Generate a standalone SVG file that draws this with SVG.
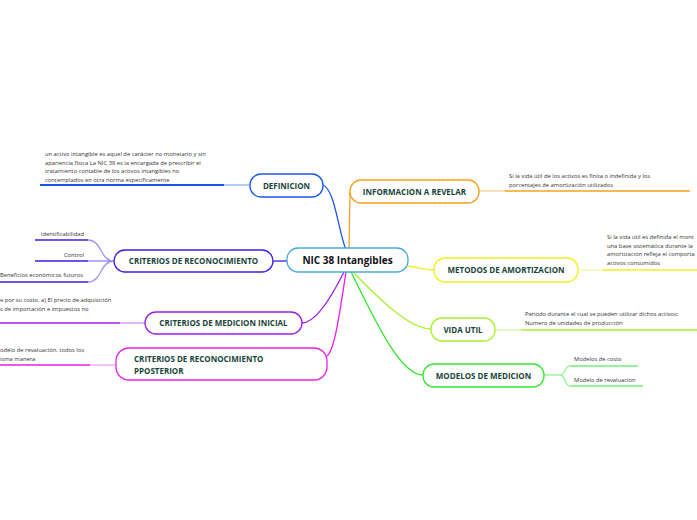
<svg xmlns="http://www.w3.org/2000/svg" width="697" height="520" viewBox="0 0 697 520">
<style>
.n{fill:#fff;stroke-width:1.3}
.t{font-family:"Open Sans","Noto Sans",sans-serif;font-weight:bold;font-size:8px;fill:#17443a}
.l{font-family:"Open Sans","Noto Sans",sans-serif;font-size:5.8px;fill:#333}
.c{fill:none;stroke-width:1.3}
</style>
<rect width="697" height="520" fill="#fff"/>
<g id="connectors">
<path class="c" stroke="#1a55e8" d="M346,250 C338,230 335,190 323,185"/>
<path class="c" stroke="#3a1ee8" d="M288,261 L273,261"/>
<path class="c" stroke="#9b1ee8" d="M344,272 C330,300 315,323 302,323"/>
<path class="c" stroke="#e81ee8" d="M346,272 C340,310 335,350 327,356"/>
<path class="c" stroke="#f5a01e" d="M349,250 L350,192"/>
<path class="c" stroke="#f0f020" d="M408,266 C420,268 425,270 434,270"/>
<path class="c" stroke="#a8f030" d="M353,272 C380,300 410,329 431,329"/>
<path class="c" stroke="#30e830" d="M351,272 C375,320 400,375 423,375"/>
<path class="c" stroke="#8ab0f8" stroke-width="0.8" d="M250,185 L224,185"/>
<path d="M40,185 L224,185" stroke="#1a55e8" stroke-width="2"/>
<path class="c" stroke="#a090f8" stroke-width="0.8" d="M114,261 C100,261 102,240 88,240 M114,261 L88,261 M114,261 C100,261 102,282 88,282"/>
<path d="M35,240 L88,240 M35,261 L88,261 M0,282 L88,282" stroke="#3a1ee8" stroke-width="1.5"/>
<path class="c" stroke="#d090f8" stroke-width="0.8" d="M145,323 L120,323"/>
<path d="M0,323 L120,323" stroke="#9b1ee8" stroke-width="1.5"/>
<path class="c" stroke="#f8a0f8" stroke-width="0.8" d="M116,365 L90,365"/>
<path d="M0,365 L90,365" stroke="#e81ee8" stroke-width="1.5"/>
<path class="c" stroke="#f8d090" stroke-width="0.8" d="M479,191 L505,191"/>
<path d="M505,191 L690,191" stroke="#f5a01e" stroke-width="1.5"/>
<path class="c" stroke="#f8f8a0" stroke-width="0.8" d="M578,270 L603,270"/>
<path d="M603,270 L697,270" stroke="#f0f020" stroke-width="1.5"/>
<path class="c" stroke="#d0f8a0" stroke-width="0.8" d="M495,330 L521,330"/>
<path d="M521,330 L697,330" stroke="#a8f030" stroke-width="1.5"/>
<path class="c" stroke="#a0f0a0" stroke-width="0.8" d="M544,375 L560,375 C566,375 564,366 570,366 M560,375 C566,375 564,386 570,386"/>
<path d="M570,366 L638,366 M570,386 L643,386" stroke="#30e830" stroke-width="1.2"/>
</g>
<g id="center"><rect class="n" x="287" y="248" width="121" height="24" rx="11" stroke="#4aa8e0"/><text class="t" x="347.5" y="263.5" text-anchor="middle" style="font-size:10px;fill:#111">NIC 38 Intangibles</text></g>
<g id="definicion"><rect class="n" x="250" y="174" width="73" height="23" rx="11" stroke="#1a55e8"/><text class="t" x="286.5" y="188.5" text-anchor="middle">DEFINICION</text>
<text class="l" x="45" y="156">un activo intangible es aquel de carácter no monetario y sin</text>
<text class="l" x="45" y="164.5">apariencia física La NIC 38 es la encargada de prescribir el</text>
<text class="l" x="45" y="173">tratamiento contable de los activos intangibles no</text>
<text class="l" x="45" y="181.5">contemplados en otra norma especificamente</text></g>
<g id="criterios-reconocimiento"><rect class="n" x="114" y="250" width="159" height="22" rx="11" stroke="#3a1ee8"/><text class="t" x="193.5" y="264" text-anchor="middle">CRITERIOS DE RECONOCIMIENTO</text>
<text class="l" x="84" y="236" text-anchor="end">Identificabilidad</text>
<text class="l" x="84" y="257" text-anchor="end">Control</text>
<text class="l" x="0" y="277">Beneficios económicos futuros</text></g>
<g id="medicion-inicial"><rect class="n" x="145" y="312" width="157" height="22" rx="11" stroke="#9b1ee8"/><text class="t" x="223.5" y="326" text-anchor="middle">CRITERIOS DE MEDICION INICIAL</text>
<text class="l" x="0" y="302">e por su costo. a) El precio de adquisición</text>
<text class="l" x="0" y="311">s de importación e impuestos no</text></g>
<g id="reconocimiento-posterior"><rect class="n" x="116" y="348" width="211" height="32" rx="13" stroke="#e81ee8"/><text class="t" x="134" y="362">CRITERIOS DE RECONOCIMIENTO</text><text class="t" x="134" y="374">PPOSTERIOR</text>
<text class="l" x="0" y="352">odelo de revaluación, todos los</text>
<text class="l" x="0" y="361">isma manera</text></g>
<g id="informacion"><rect class="n" x="350" y="180" width="129" height="23" rx="11" stroke="#f5a01e"/><text class="t" x="414.5" y="194.5" text-anchor="middle">INFORMACION A REVELAR</text>
<text class="l" x="509" y="178">Si la vida útil de los activos es finita o indefinida y los</text>
<text class="l" x="509" y="186.5">porcentajes de amortización utilizados</text></g>
<g id="metodos"><rect class="n" x="434" y="258" width="144" height="24" rx="11" stroke="#f0f020"/><text class="t" x="506" y="273" text-anchor="middle">METODOS DE AMORTIZACION</text>
<text class="l" x="607" y="239">Si la vida útil es definida el mont</text>
<text class="l" x="607" y="247.5">una base sistemática durante la</text>
<text class="l" x="607" y="256">amortización refleja el comporta</text>
<text class="l" x="607" y="264.5">activos consumidos</text></g>
<g id="vida-util"><rect class="n" x="431" y="318" width="64" height="23" rx="11" stroke="#a8f030"/><text class="t" x="463" y="332.5" text-anchor="middle">VIDA UTIL</text>
<text class="l" x="525" y="316">Periodo durante el cual se pueden utilizar dichos activos;</text>
<text class="l" x="525" y="325">Numero de unidades de producción</text></g>
<g id="modelos"><rect class="n" x="423" y="364" width="121" height="23" rx="11" stroke="#30e830"/><text class="t" x="483.5" y="378.5" text-anchor="middle">MODELOS DE MEDICION</text>
<text class="l" x="574" y="361">Modelos de costo</text>
<text class="l" x="574" y="381.5">Modelo de revaluacion</text></g>
</svg>
